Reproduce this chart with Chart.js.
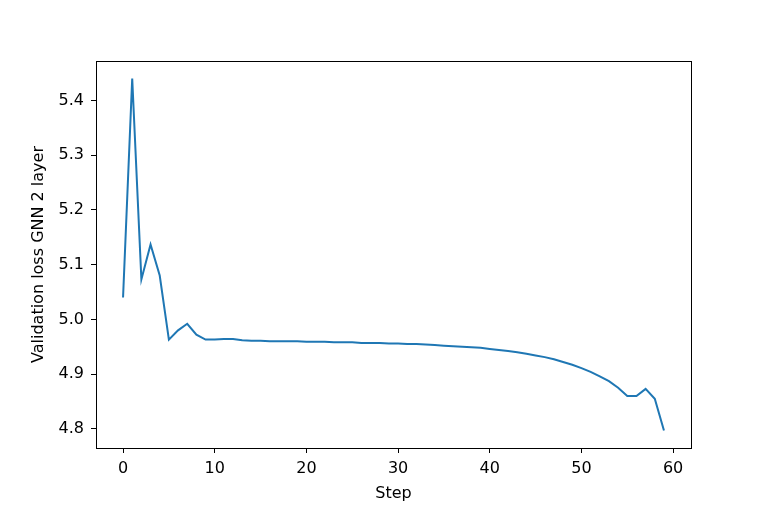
<!DOCTYPE html>
<html lang="en">
<head>
  <meta charset="UTF-8" />
  <title>Validation loss</title>
  <script src="https://cdn.jsdelivr.net/npm/chart.js"></script>
  <style>
    html, body { margin: 0; padding: 0; background: #fff; }
    #wrap { width: 768px; height: 512px; }
  </style>
</head>
<body>
<div id="wrap"><canvas id="lossChart" width="768" height="512"></canvas></div>
<script>
  // step index and the loss
  const steps = Array.from({ length: 60 }, (_, i) => i);
  const lossValues = [
    5.040, 5.440, 5.073, 5.137, 5.080, 4.963, 4.980, 4.992, 4.972, 4.963,
    4.963, 4.964, 4.964, 4.962, 4.961, 4.961, 4.960, 4.960, 4.960, 4.960,
    4.959, 4.959, 4.959, 4.958, 4.958, 4.958, 4.957, 4.957, 4.957, 4.956,
    4.956, 4.955, 4.955, 4.954, 4.953, 4.952, 4.951, 4.950, 4.949, 4.948,
    4.946, 4.944, 4.942, 4.940, 4.937, 4.934, 4.931, 4.927, 4.922, 4.917,
    4.911, 4.904, 4.896, 4.887, 4.875, 4.860, 4.860, 4.873, 4.855, 4.797
  ];
  const xTicks = [0, 10, 20, 30, 40, 50, 60];
  const yTicks = [4.8, 4.9, 5.0, 5.1, 5.2, 5.3, 5.4];

  const FONT = "'DejaVu Sans', sans-serif";

  // full box around the plot area, like matplotlib spines
  const frame = {
    id: "frame",
    afterDraw(chart) {
      const { ctx, chartArea: a } = chart;
      ctx.save();
      ctx.strokeStyle = "#000";
      ctx.lineWidth = 1;
      ctx.strokeRect(Math.round(a.left) + 0.5, Math.round(a.top) + 0.5,
        Math.round(a.right - a.left), Math.round(a.bottom - a.top));
      ctx.restore();
    }
  };

  new Chart(document.getElementById("lossChart"), {
    type: "line",
    data: {
      datasets: [{
        data: steps.map((s, i) => ({ x: s, y: lossValues[i] })),
        borderColor: "#1f77b4",
        borderWidth: 2,
        pointRadius: 0,
        tension: 0,
        fill: false
      }]
    },
    options: {
      responsive: false,
      animation: false,
      layout: { padding: { left: 29, right: 77, top: 61, bottom: 9 } },
      plugins: { legend: { display: false }, tooltip: { enabled: false } },
      scales: {
        x: {
          type: "linear",
          min: -2.95,
          max: 61.95,
          afterBuildTicks: s => { s.ticks = xTicks.map(v => ({ value: v })); },
          afterFit: s => { s.height = 55; },
          grid: { drawOnChartArea: false, tickLength: 5, color: "#000" },
          border: { display: false },
          ticks: { color: "#000", font: { family: FONT, size: 16 }, padding: 6, maxRotation: 0 },
          title: { display: true, text: "Step", color: "#000", font: { family: FONT, size: 16 }, padding: 0 }
        },
        y: {
          min: 4.765,
          max: 5.472,
          afterBuildTicks: s => { s.ticks = yTicks.map(v => ({ value: v })); },
          afterFit: s => { s.width = 67; },
          grid: { drawOnChartArea: false, tickLength: 5, color: "#000" },
          border: { display: false },
          ticks: { color: "#000", font: { family: FONT, size: 16 }, padding: 7, callback: v => v.toFixed(1) },
          title: { display: true, text: "Validation loss GNN 2 layer", color: "#000", font: { family: FONT, size: 16 }, padding: 0 }
        }
      }
    },
    plugins: [frame]
  });
</script>
</body>
</html>
